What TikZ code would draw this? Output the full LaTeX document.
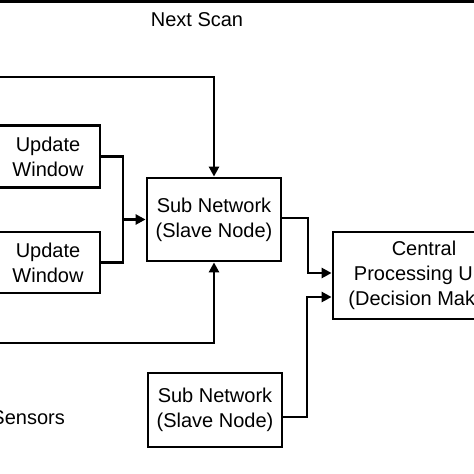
\documentclass[tikz,border=0pt]{standalone}
\usepackage{fontspec}
\setmainfont{Liberation Sans}
\usetikzlibrary{arrows.meta}
\begin{document}
\begin{tikzpicture}[x=1pt,y=-1pt,
  box/.style={draw=black,line width=2.8pt,align=center,inner sep=0pt,font=\fontsize{20}{25}\selectfont},
  lbl/.style={inner sep=0pt,font=\fontsize{20}{25}\selectfont},
  conn/.style={line width=2.8pt},
  arr/.style={conn,-{Triangle[length=10pt,width=10pt]}}]
\useasboundingbox (0,0) rectangle (474,474);
\clip (0,0) rectangle (474,474);
\fill[white] (0,0) rectangle (474,474);
\fill[black] (0,0) rectangle (474,3);
\node[lbl] (next) at (197,20) {Next Scan};
\node[box,minimum width=104pt,minimum height=62pt] (uw1) at (48,156.5) {Update\\Window};
\node[box,minimum width=104pt,minimum height=61pt] (uw2) at (48,262.5) {Update\\Window};
\node[box,minimum width=134pt,minimum height=83pt] (sn1) at (214,219.5) {Sub Network\\(Slave Node)};
\node[box,minimum width=182pt,minimum height=87pt] (cpu) at (424,275.5) {Central\\Processing Unit\\(Decision Maker)};
\node[box,minimum width=134pt,minimum height=74pt] (sn2) at (215,410) {Sub Network\\(Slave Node)};
\node[lbl,anchor=east] (sens) at (65,418) {Sensors};
\coordinate (topl) at (-10,77);
\coordinate (botl) at (-10,343);
\coordinate (j) at (123,219.5);
\draw[arr] (topl) -| (sn1.north);
\draw[arr] (botl) -| (sn1.south);
\draw[conn] (uw1.east) -| (j);
\draw[conn] (uw2.east) -| (j);
\draw[arr] (j) -- (sn1.west);
\draw[arr] (sn1.east |- 0,218) -| (308,273) -- (cpu.west |- 0,273);
\draw[arr] (sn2.east |- 0,417) -| (307,297) -- (cpu.west |- 0,297);
\end{tikzpicture}
\end{document}
